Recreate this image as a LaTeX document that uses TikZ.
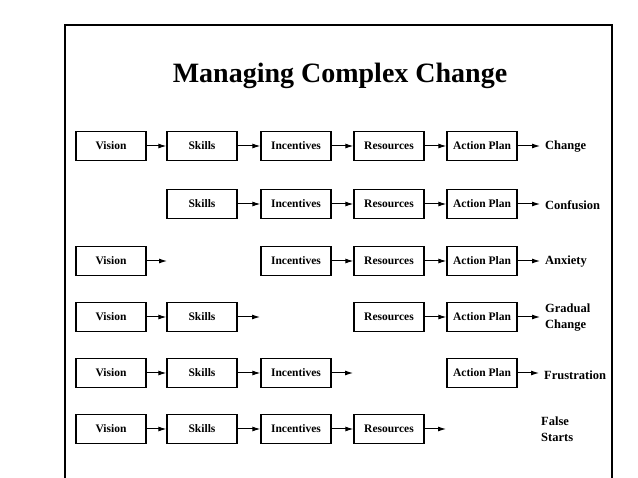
\documentclass[tikz,border=0pt]{standalone}
\usepackage{fontspec}
\setmainfont{Liberation Serif}
\usetikzlibrary{arrows.meta}
\begin{document}
\begin{tikzpicture}[x=1pt,y=-1pt,
  bx/.style={draw,line width=1.3pt,minimum width=70pt,minimum height=29pt,font=\bfseries\fontsize{11.5}{13}\selectfont,inner sep=0pt},
  res/.style={anchor=west,font=\bfseries\fontsize{12.5}{16}\selectfont,align=left,inner sep=0pt},
  ar/.style={line width=1pt,-{Latex[length=8pt,width=5pt]}},
  aro/.style={ar,shorten >=5pt}]
\useasboundingbox (0,0) rectangle (638,478);
\draw[line width=1.2pt] (65,490) -- (65,25) -- (612,25) -- (612,490);
\node[font=\bfseries\fontsize{28}{32}\selectfont] (title) at (340,76) {Managing Complex Change};
\def\cV{111}\def\cS{202}\def\cI{296}\def\cR{389}\def\cA{482}
% row 1
\node[bx] (v1) at (\cV,146) {Vision};
\node[bx] (s1) at (\cS,146) {Skills};
\node[bx] (i1) at (\cI,146) {Incentives};
\node[bx] (r1) at (\cR,146) {Resources};
\node[bx] (a1) at (\cA,146) {Action Plan};
\node[res] (o1) at (545,147) {Change};
\draw[ar] (v1) -- (s1); \draw[ar] (s1) -- (i1); \draw[ar] (i1) -- (r1); \draw[ar] (r1) -- (a1); \draw[aro] (a1) -- (a1 -| o1.west);
% row 2
\node[bx] (s2) at (\cS,204) {Skills};
\node[bx] (i2) at (\cI,204) {Incentives};
\node[bx] (r2) at (\cR,204) {Resources};
\node[bx] (a2) at (\cA,204) {Action Plan};
\node[res] (o2) at (545,205) {Confusion};
\draw[ar] (s2) -- (i2); \draw[ar] (i2) -- (r2); \draw[ar] (r2) -- (a2); \draw[aro] (a2) -- (a2 -| o2.west);
% row 3
\node[bx] (v3) at (\cV,261) {Vision};
\coordinate (e3) at (167,261);
\node[bx] (i3) at (\cI,261) {Incentives};
\node[bx] (r3) at (\cR,261) {Resources};
\node[bx] (a3) at (\cA,261) {Action Plan};
\node[res] (o3) at (545,262) {Anxiety};
\draw[ar] (v3) -- (e3); \draw[ar] (i3) -- (r3); \draw[ar] (r3) -- (a3); \draw[aro] (a3) -- (a3 -| o3.west);
% row 4
\node[bx] (v4) at (\cV,317) {Vision};
\node[bx] (s4) at (\cS,317) {Skills};
\coordinate (e4) at (260,317);
\node[bx] (r4) at (\cR,317) {Resources};
\node[bx] (a4) at (\cA,317) {Action Plan};
\node[res] (o4) at (545,318) {Gradual\\Change};
\draw[ar] (v4) -- (s4); \draw[ar] (s4) -- (e4); \draw[ar] (r4) -- (a4); \draw[aro] (a4) -- (a4 -| o4.west);
% row 5
\node[bx] (v5) at (\cV,373) {Vision};
\node[bx] (s5) at (\cS,373) {Skills};
\node[bx] (i5) at (\cI,373) {Incentives};
\coordinate (e5) at (353,373);
\node[bx] (a5) at (\cA,373) {Action Plan};
\node[res] (o5) at (544,375) {Frustration};
\draw[ar] (v5) -- (s5); \draw[ar] (s5) -- (i5); \draw[ar] (i5) -- (e5); \draw[aro] (a5) -- (a5 -| o5.west);
% row 6
\node[bx] (v6) at (\cV,429) {Vision};
\node[bx] (s6) at (\cS,429) {Skills};
\node[bx] (i6) at (\cI,429) {Incentives};
\node[bx] (r6) at (\cR,429) {Resources};
\coordinate (e6) at (446,429);
\node[res] (o6) at (541,429) {False\\Starts};
\draw[ar] (v6) -- (s6); \draw[ar] (s6) -- (i6); \draw[ar] (i6) -- (r6); \draw[ar] (r6) -- (e6);
\end{tikzpicture}
\end{document}
